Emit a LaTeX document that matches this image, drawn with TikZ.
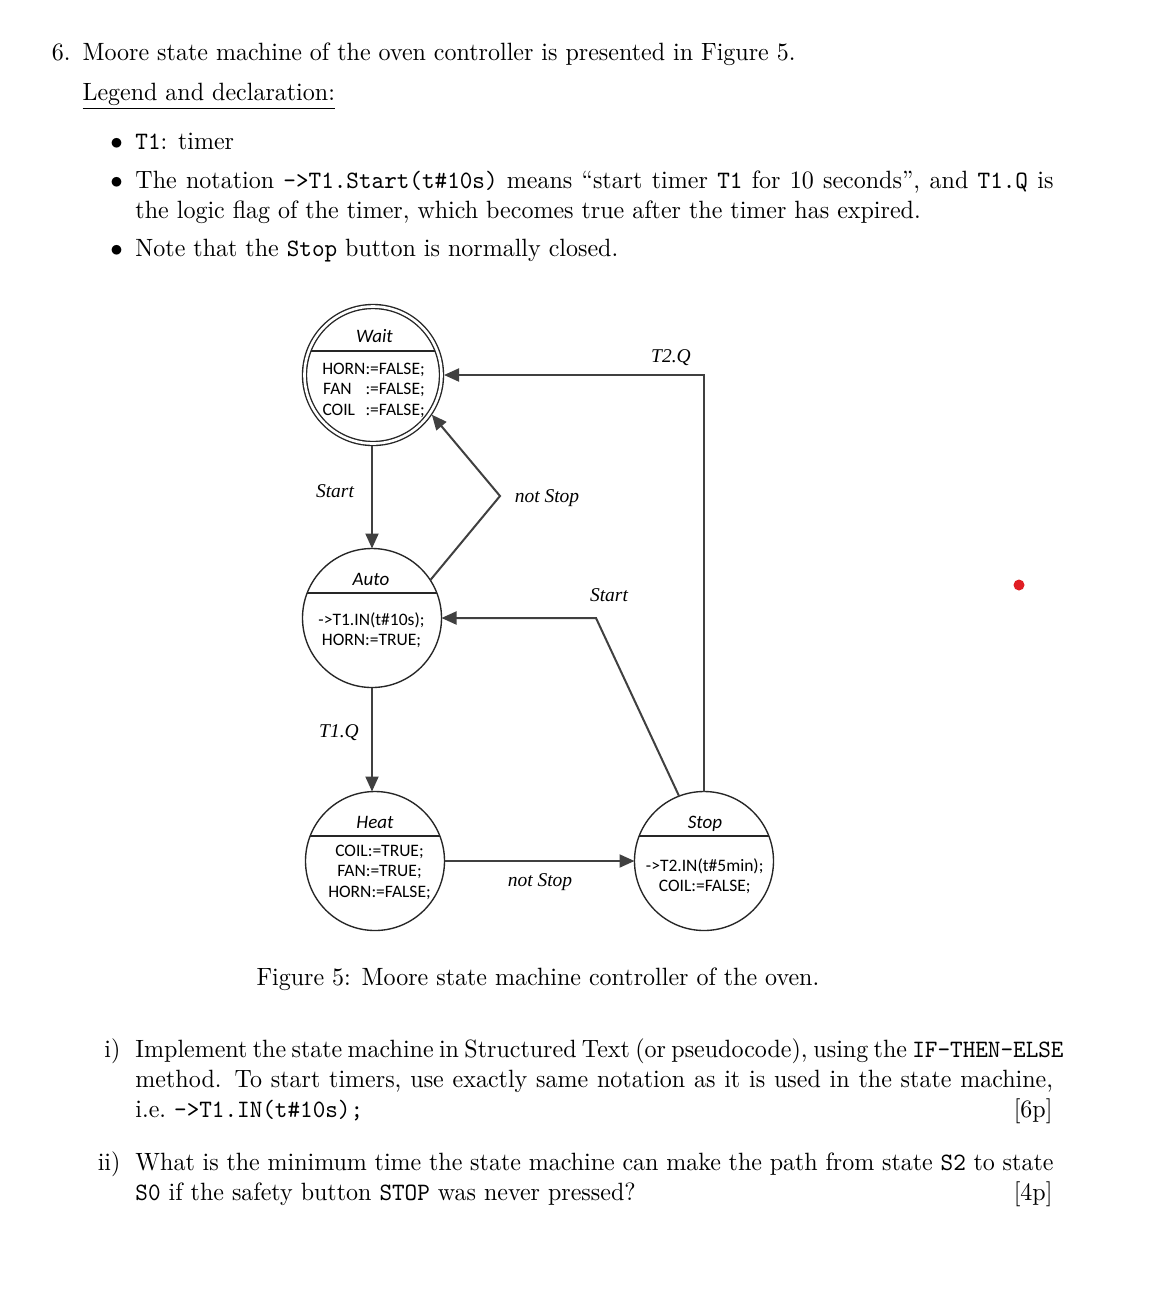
\documentclass[tikz,border=0pt]{standalone}
\usepackage{graphicx}
\usepackage{fontspec}
\newfontfamily\calibri{Carlito}
\newfontfamily\timesf{Liberation Serif}
\usetikzlibrary{arrows.meta,calc}
\definecolor{reddot}{RGB}{224,30,36}
\definecolor{linegray}{RGB}{64,64,64}
\newcommand{\sqz}[1]{\scalebox{0.96}[1]{#1}}
\begin{document}
\begin{tikzpicture}[x=0.4pt,y=-0.4pt,
  stcirc/.style={circle, draw=black!85, line width=0.55pt, minimum size=55.6pt, inner sep=0pt, outer sep=0pt},
  dblcirc/.style={stcirc, double, double distance=1.05pt, minimum size=54.8pt, outer sep=1pt},
  ttl/.style={font=\calibri\itshape\fontsize{7.6}{9}\selectfont, anchor=base, inner sep=0pt},
  body/.style={font=\calibri\fontsize{7}{8.2}\selectfont, align=center, inner sep=0pt},
  lbl/.style={font=\timesf\itshape\fontsize{7.8}{9}\selectfont, inner sep=0pt},
  arr/.style={draw=linegray, line width=0.8pt, -{Triangle[length=6pt,width=5.2pt]}},
  divl/.style={draw=black!85, line width=0.55pt},
  txt/.style={anchor=base west, inner sep=0pt, font=\fontsize{10}{12}\selectfont},
  txte/.style={anchor=base east, inner sep=0pt, font=\fontsize{10}{12}\selectfont},
  bul/.style={anchor=base, inner sep=0pt, font=\fontsize{10}{12}\selectfont}
]
\fill[white] (0,0) rectangle (1162,1302);
\useasboundingbox (0,0) rectangle (1162,1302);

% ---------- header text ----------
\node[txt] (n6) at (51.5,60) {\sqz{6.}};
\node[txt] (q6) at (82,60) {\sqz{Moore state machine of the oven controller is presented in Figure 5.}};
\node[txt] (leg) at (82,100) {\sqz{\underline{Legend and declaration:}}};
\node[bul] (bu1) at (116.7,149) {$\bullet$};
\node[bul] (bu2) at (116.7,188) {$\bullet$};
\node[bul] (bu3) at (116.7,256) {$\bullet$};
\node[txt] (l1) at (135,149) {\sqz{\texttt{T1}: timer}};
\node[txt] (l2) at (135,188) {\sqz{\hbox to 382.5pt{The notation \texttt{->T1.Start(t\#10s)} means “start timer \texttt{T1} for 10 seconds”, and \texttt{T1.Q} is}}};
\node[txt] (l3) at (135,218) {\sqz{the logic flag of the timer, which becomes true after the timer has expired.}};
\node[txt] (l4) at (135,256) {\sqz{Note that the \texttt{Stop} button is normally closed.}};

% ---------- states ----------
\node[dblcirc] (wait) at (373,375) {};
\node[stcirc] (auto) at (372,618) {};
\node[stcirc] (heat) at (375,861) {};
\node[stcirc] (stop) at (704,861) {};

\draw[divl] ($(wait.center)+(-62,-24)$) -- ($(wait.center)+(62,-24)$);
\draw[divl] ($(auto.center)+(-64.8,-25)$) -- ($(auto.center)+(64.8,-25)$);
\draw[divl] ($(heat.center)+(-65.2,-25)$) -- ($(heat.center)+(65.2,-25)$);
\draw[divl] ($(stop.center)+(-65.2,-25)$) -- ($(stop.center)+(65.2,-25)$);

\node[ttl] (waitT) at (374.5,342) {Wait};
\node[ttl] (autoT) at (371,585) {Auto};
\node[ttl] (heatT) at (375,828) {Heat};
\node[ttl] (stopT) at (705,828) {Stop};

\node[body, align=right] (waitB) at (373.5,390) {HORN:=FALSE;\\FAN\hspace{0.79em}:=FALSE;\\COIL\hspace{0.6em}:=FALSE;};
\node[body] (autoB) at (371.5,630) {->T1.IN(t\#10s);\\HORN:=TRUE;};
\node[body] (heatB) at (379.5,872) {COIL:=TRUE;\\FAN:=TRUE;\\HORN:=FALSE;};
\node[body] (stopB) at (704.7,876) {->T2.IN(t\#5min);\\COIL:=FALSE;};

% ---------- connectors ----------
\coordinate (b1) at (500,496);
\coordinate (b2) at (596,618);
\draw[arr] (wait.south -| auto.north) -- (auto.north);
\draw[arr] (auto.south) -- (auto.south |- heat.north);
\draw[arr] (auto.33.9) -- (b1) -- (wait.-34.5);
\draw[arr] (heat.east) -- (stop.west);
\draw[arr] (stop.111.3) -- (b2) -- (auto.east);
\draw[arr] (stop.north) -- (stop.north |- wait.east) -- (wait.east);

\node[lbl] (lStart1) at (335,491) {Start};
\node[lbl] (lNot1) at (547,498) {not Stop};
\node[lbl] (lT2) at (671,358) {T2.Q};
\node[lbl] (lStart2) at (609,595) {Start};
\node[lbl] (lT1) at (339,733) {T1.Q};
\node[lbl] (lNot2) at (540,882) {not Stop};

\node[circle, fill=reddot, inner sep=0pt, minimum size=4.4pt] (dot) at (1019,585) {};

% ---------- caption and questions ----------
\node[txt] (cap) at (256,985) {\sqz{Figure 5: Moore state machine controller of the oven.}};
\node[txte] (ei) at (121,1057) {\sqz{i)}};
\node[txt] (i1) at (135,1057) {\sqz{\hbox to 386.7pt{Implement the state machine in Structured Text (or pseudocode), using the \texttt{IF-THEN-ELSE}}}};
\node[txt] (i2) at (135,1087) {\sqz{\hbox to 382.3pt{method. To start timers, use exactly same notation as it is used in the state machine,}}};
\node[txt] (i3) at (135,1117) {\sqz{i.e.\ \texttt{->T1.IN(t\#10s);}}};
\node[txte] (p6) at (1053,1117) {\sqz{[6p]}};
\node[txte] (eii) at (121,1170) {\sqz{ii)}};
\node[txt] (ii1) at (135,1170) {\sqz{\hbox to 382.5pt{What is the minimum time the state machine can make the path from state \texttt{S2} to state}}};
\node[txt] (ii2) at (135,1200) {\sqz{\texttt{S0} if the safety button \texttt{STOP} was never pressed?}};
\node[txte] (p4) at (1053,1200) {\sqz{[4p]}};
\end{tikzpicture}
\end{document}
